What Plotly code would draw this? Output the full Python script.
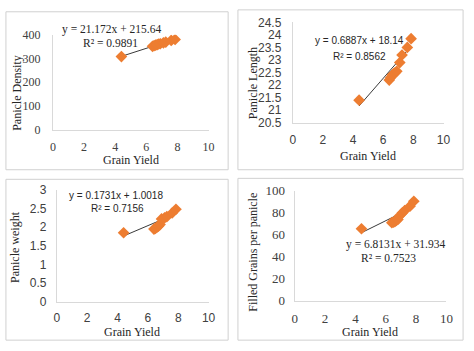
import plotly.graph_objects as go

grain_yield = [4.4, 6.4, 6.5, 6.6, 6.7, 6.8, 6.9, 7.1, 7.25, 7.6, 7.85]
panicle_density = [308, 351, 354, 356, 358, 361, 362, 366, 369, 376, 380]
panicle_length = [21.4, 22.2, 22.3, 22.4, 22.45, 22.5, 22.55, 22.9, 23.2, 23.5, 23.85]
panicle_weight = [1.85, 1.95, 1.97, 2.0, 2.03, 2.07, 2.22, 2.25, 2.28, 2.38, 2.48]
filled_grains = [65.5, 71, 71.5, 72, 73, 74, 77, 80, 82, 86, 90.5]

slopes = [21.172, 0.6887, 0.1731, 6.8131]
intercepts = [215.64, 18.14, 1.0018, 31.934]
eq_text = ["y = 21.172x + 215.64", "y = 0.6887x + 18.14", "y = 0.1731x + 1.0018", "y = 6.8131x + 31.934"]
r2_text = ["R² = 0.9891", "R² = 0.8562", "R² = 0.7156", "R² = 0.7523"]
y_titles = ["Panicle Density", "Panicle Length", "Panicle weight", "Filled Grains per panicle"]
x_title = "Grain Yield"

W, H = 474, 351
def px(x): return x / W
def py(y): return 1 - y / H

SERIF = "Liberation Serif"
SANS = "Liberation Sans"
ORANGE = "#ED7D31"
TICKC = "#404040"
TXT = "#262626"

series = [panicle_density, panicle_length, panicle_weight, filled_grains]
# plot area pixel boxes: (x0, x1, ytop, ybottom)
boxes = [(51, 210, 29, 128), (296, 450, 16, 121), (55, 210, 191, 308), (298, 453, 192, 307)]
yranges = [[0, 400], [20.5, 24.5], [0, 3], [0, 100]]
ydticks = [100, 0.5, 0.5, 20]
tickfonts = [(SERIF, 12), (SANS, 12), (SANS, 12), (SERIF, 13)]
eqfonts = [(SERIF, 11.5), (SANS, 10), (SANS, 10), (SERIF, 11.5)]
ylen = [9, 8, 7, 6]
xlen = [6, 6, 5, 6]
borders = [(3, 5, 230, 170), (240, 3, 470, 170), (3, 180, 230, 348), (240, 179, 470, 348)]
eq_pos = [((111, 24), (110, 38)), ((364, 35), (364, 52)), ((115, 197), (117, 210)), ((401, 248), (394, 262))]
ytitle_pos = [(14, 90), (255, 80), (13, 251), (255, 256)]
xtitle_pos = [(131, 160), (373, 156), (132, 340), (375, 339)]

fig = go.Figure()
layout = dict(width=W, height=H, margin=dict(l=0, r=0, t=0, b=0),
              paper_bgcolor="white", plot_bgcolor="white", showlegend=False,
              shapes=[], annotations=[])

xmin, xmax = min(grain_yield), max(grain_yield)
for i in range(4):
    xa = "x" if i == 0 else f"x{i+1}"
    ya = "y" if i == 0 else f"y{i+1}"
    fig.add_trace(go.Scatter(x=[xmin, xmax],
                             y=[slopes[i] * xmin + intercepts[i], slopes[i] * xmax + intercepts[i]],
                             mode="lines", line=dict(color="#3a3a3a", width=1),
                             xaxis=xa, yaxis=ya, hoverinfo="skip"))
    fig.add_trace(go.Scatter(x=grain_yield, y=series[i], mode="markers",
                             marker=dict(symbol="diamond", size=9, color=ORANGE),
                             xaxis=xa, yaxis=ya))
    x0, x1, yt, yb = boxes[i]
    xkey = "xaxis" if i == 0 else f"xaxis{i+1}"
    ykey = "yaxis" if i == 0 else f"yaxis{i+1}"
    tf, ts = tickfonts[i]
    layout[xkey] = dict(domain=[px(x0), px(x1)], range=[0, 10], dtick=2, tick0=0,
                        anchor=ya, showgrid=False, zeroline=False,
                        showline=True, linecolor="#d9d9d9", linewidth=1,
                        ticks="outside", ticklen=xlen[i], tickcolor="rgba(0,0,0,0)",
                        tickfont=dict(family=tf, size=ts, color=TICKC))
    layout[ykey] = dict(domain=[py(yb), py(yt)], range=yranges[i], dtick=ydticks[i],
                        tick0=yranges[i][0], anchor=xa, showgrid=False, zeroline=False,
                        showline=True, linecolor="#d9d9d9", linewidth=1,
                        ticks="outside", ticklen=ylen[i], tickcolor="rgba(0,0,0,0)",
                        tickfont=dict(family=tf, size=ts, color=TICKC))
    bx0, by0, bx1, by1 = borders[i]
    layout["shapes"].append(dict(type="rect", xref="paper", yref="paper",
                                 x0=px(bx0), x1=px(bx1), y0=py(by1), y1=py(by0),
                                 line=dict(color="#d0d0d0", width=1)))
    ef, es = eqfonts[i]
    (ex, ey), (rx, ry) = eq_pos[i]
    layout["annotations"].append(dict(text=eq_text[i], x=px(ex), y=py(ey), xref="paper", yref="paper",
                                      showarrow=False, xanchor="center", yanchor="middle",
                                      font=dict(family=ef, size=es, color=TXT)))
    layout["annotations"].append(dict(text=r2_text[i], x=px(rx), y=py(ry), xref="paper", yref="paper",
                                      showarrow=False, xanchor="center", yanchor="middle",
                                      font=dict(family=ef, size=es, color=TXT)))
    tx, ty = ytitle_pos[i]
    layout["annotations"].append(dict(text=y_titles[i], x=px(tx), y=py(ty), xref="paper", yref="paper",
                                      showarrow=False, textangle=-90, xanchor="center", yanchor="middle",
                                      font=dict(family=SERIF, size=12, color=TXT)))
    tx, ty = xtitle_pos[i]
    layout["annotations"].append(dict(text=x_title, x=px(tx), y=py(ty), xref="paper", yref="paper",
                                      showarrow=False, xanchor="center", yanchor="middle",
                                      font=dict(family=SERIF, size=12, color=TXT)))

fig.update_layout(**layout)
fig.write_html("out.html")
